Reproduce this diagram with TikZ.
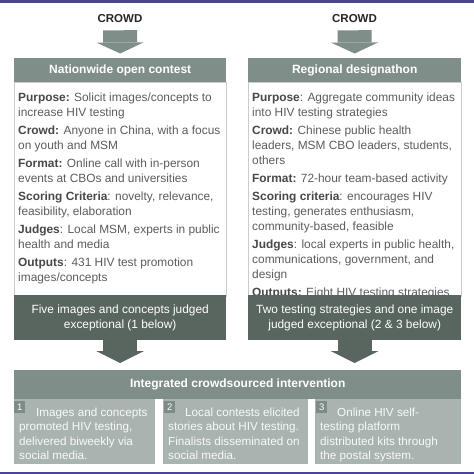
\documentclass[tikz,border=0pt]{standalone}
\usepackage{fontspec}
\setmainfont{Liberation Sans}
\usetikzlibrary{arrows.meta}
\definecolor{hdrc}{HTML}{808E8A}
\definecolor{darkc}{HTML}{58665F}
\definecolor{lightc}{HTML}{A9B4B1}
\definecolor{numc}{HTML}{7E8B87}
\definecolor{purpc}{HTML}{4B4592}
\definecolor{bordc}{HTML}{C9CDCB}
\definecolor{txtc}{HTML}{5C5C5C}
\definecolor{lblc}{HTML}{484848}
\newcommand{\lbl}[1]{\textbf{\color{lblc}#1}}
\tikzset{
  crowdlbl/.style={font=\bfseries\fontsize{11.5}{13}\selectfont, text=black!85, inner sep=0},
  hdrbox/.style={fill=hdrc, text=white, font=\bfseries\fontsize{12}{14}\selectfont, inner sep=0, anchor=north west},
  bodybox/.style={draw=bordc, line width=1.2pt, fill=white, inner sep=0, anchor=north west},
  bodytext/.style={align=left, inner sep=0, text=txtc, font=\fontsize{11.9}{15}\selectfont, anchor=north west},
  outbox/.style={fill=darkc, text=white, align=center, font=\fontsize{11.9}{15}\selectfont, inner sep=0, anchor=north west},
  lightbox/.style={fill=lightc, inner sep=0, anchor=north west},
  boxtext/.style={align=left, inner sep=0, text=white!95!gray, font=\fontsize{11.7}{14.5}\selectfont, anchor=north west},
  numbox/.style={fill=numc, text=white, minimum width=11pt, minimum height=12.5pt, inner sep=0, font=\fontsize{9.5}{9.5}\selectfont, anchor=north west},
  toparrow/.style={draw=hdrc, line width=34pt, -{Triangle[width=47pt,length=11pt,line width=0pt]}},
  botarrow/.style={draw=darkc, line width=34pt, -{Triangle[width=48pt,length=12pt,line width=0pt]}}
}
\begin{document}
\begin{tikzpicture}[x=1pt,y=-1pt]
\path[use as bounding box] (0,0) rectangle (474,474);
\fill[purpc] (0,0) rectangle (474,2.5);
\fill[purpc] (0,471.5) rectangle (474,474);

% CROWD labels
\node[crowdlbl] (crowdL) at (120,19) {CROWD};
\node[crowdlbl] (crowdR) at (354.5,19) {CROWD};

% headers
\node[hdrbox, minimum width=212pt, minimum height=24pt] (hdrL) at (14,58) {Nationwide open contest};
\node[hdrbox, minimum width=213pt, minimum height=24pt] (hdrR) at (248,58) {Regional designathon};

\draw[toparrow, shorten <=7pt, shorten >=4.5pt] (crowdL.south) -- (hdrL.north);
\draw[toparrow, shorten <=7pt, shorten >=4.5pt] (crowdR.south) -- (hdrR.north);

% body boxes
\node[bodybox, minimum width=212pt, minimum height=214pt] (bodyL) at (14,82) {};
\node[bodybox, minimum width=213pt, minimum height=214pt] (bodyR) at (248,82) {};

\node[bodytext] (txtL) at (18,92.5) {\lbl{Purpose:} Solicit images/concepts to\\
increase HIV testing\\[3pt]
\lbl{Crowd:} Anyone in China, with a focus\\
on youth and MSM\\[3pt]
\lbl{Format:} Online call with in-person\\
events at CBOs and universities\\[3pt]
\lbl{Scoring Criteria}: novelty, relevance,\\
feasibility, elaboration\\[3pt]
\lbl{Judges}: Local MSM, experts in public\\
health and media\\[3pt]
\lbl{Outputs}: 431 HIV test promotion\\
images/concepts};

\node[bodytext] (txtR) at (252,92.5) {\lbl{Purpose}: Aggregate community ideas\\
into HIV testing strategies\\[3pt]
\lbl{Crowd:} Chinese public health\\
leaders, MSM CBO leaders, students,\\
others\\[3pt]
\lbl{Format:} 72-hour team-based activity\\[3pt]
\lbl{Scoring criteria}: encourages HIV\\
testing, generates enthusiasm,\\
community-based, feasible\\[3pt]
\lbl{Judges}: local experts in public health,\\
communications, government, and\\
design\\[3pt]
\lbl{Outputs:} Eight HIV testing strategies};

% dark output boxes
\node[outbox, minimum width=212pt, minimum height=45pt] (outL) at (14,295) {Five images and concepts judged\\exceptional (1 below)};
\node[outbox, minimum width=213pt, minimum height=45pt] (outR) at (248,295) {Two testing strategies and one image\\judged exceptional (2 \& 3 below)};

% bottom header
\node[hdrbox, minimum width=447pt, minimum height=29pt] (hdrB) at (14,370) {Integrated crowdsourced intervention};

\draw[botarrow, shorten >=7pt] (outL.south) -- (outL.south |- hdrB.north);
\draw[botarrow, shorten >=7pt] (outR.south) -- (outR.south |- hdrB.north);

% bottom boxes
\node[lightbox, minimum width=141pt, minimum height=65pt] (b1) at (14,399) {};
\node[lightbox, minimum width=145pt, minimum height=65pt] (b2) at (163,399) {};
\node[lightbox, minimum width=146pt, minimum height=65pt] (b3) at (315,399) {};

\node[numbox] (n1) at ([xshift=0pt,yshift=-1.5pt]b1.north west) {1};
\node[numbox] (n2) at ([xshift=1pt,yshift=-1.5pt]b2.north west) {2};
\node[numbox] (n3) at ([xshift=1pt,yshift=-1.5pt]b3.north west) {3};

\node[boxtext] (t1) at (19,407.5) {\hspace*{17pt}Images and concepts\\
promoted HIV testing,\\
delivered biweekly via\\
social media.};
\node[boxtext] (t2) at (168,407.5) {\hspace*{17pt}Local contests elicited\\
stories about HIV testing.\\
Finalists disseminated on\\
social media.};
\node[boxtext] (t3) at (320,407.5) {\hspace*{17pt}Online HIV self-\\
testing platform\\
distributed kits through\\
the postal system.};
\end{tikzpicture}
\end{document}
